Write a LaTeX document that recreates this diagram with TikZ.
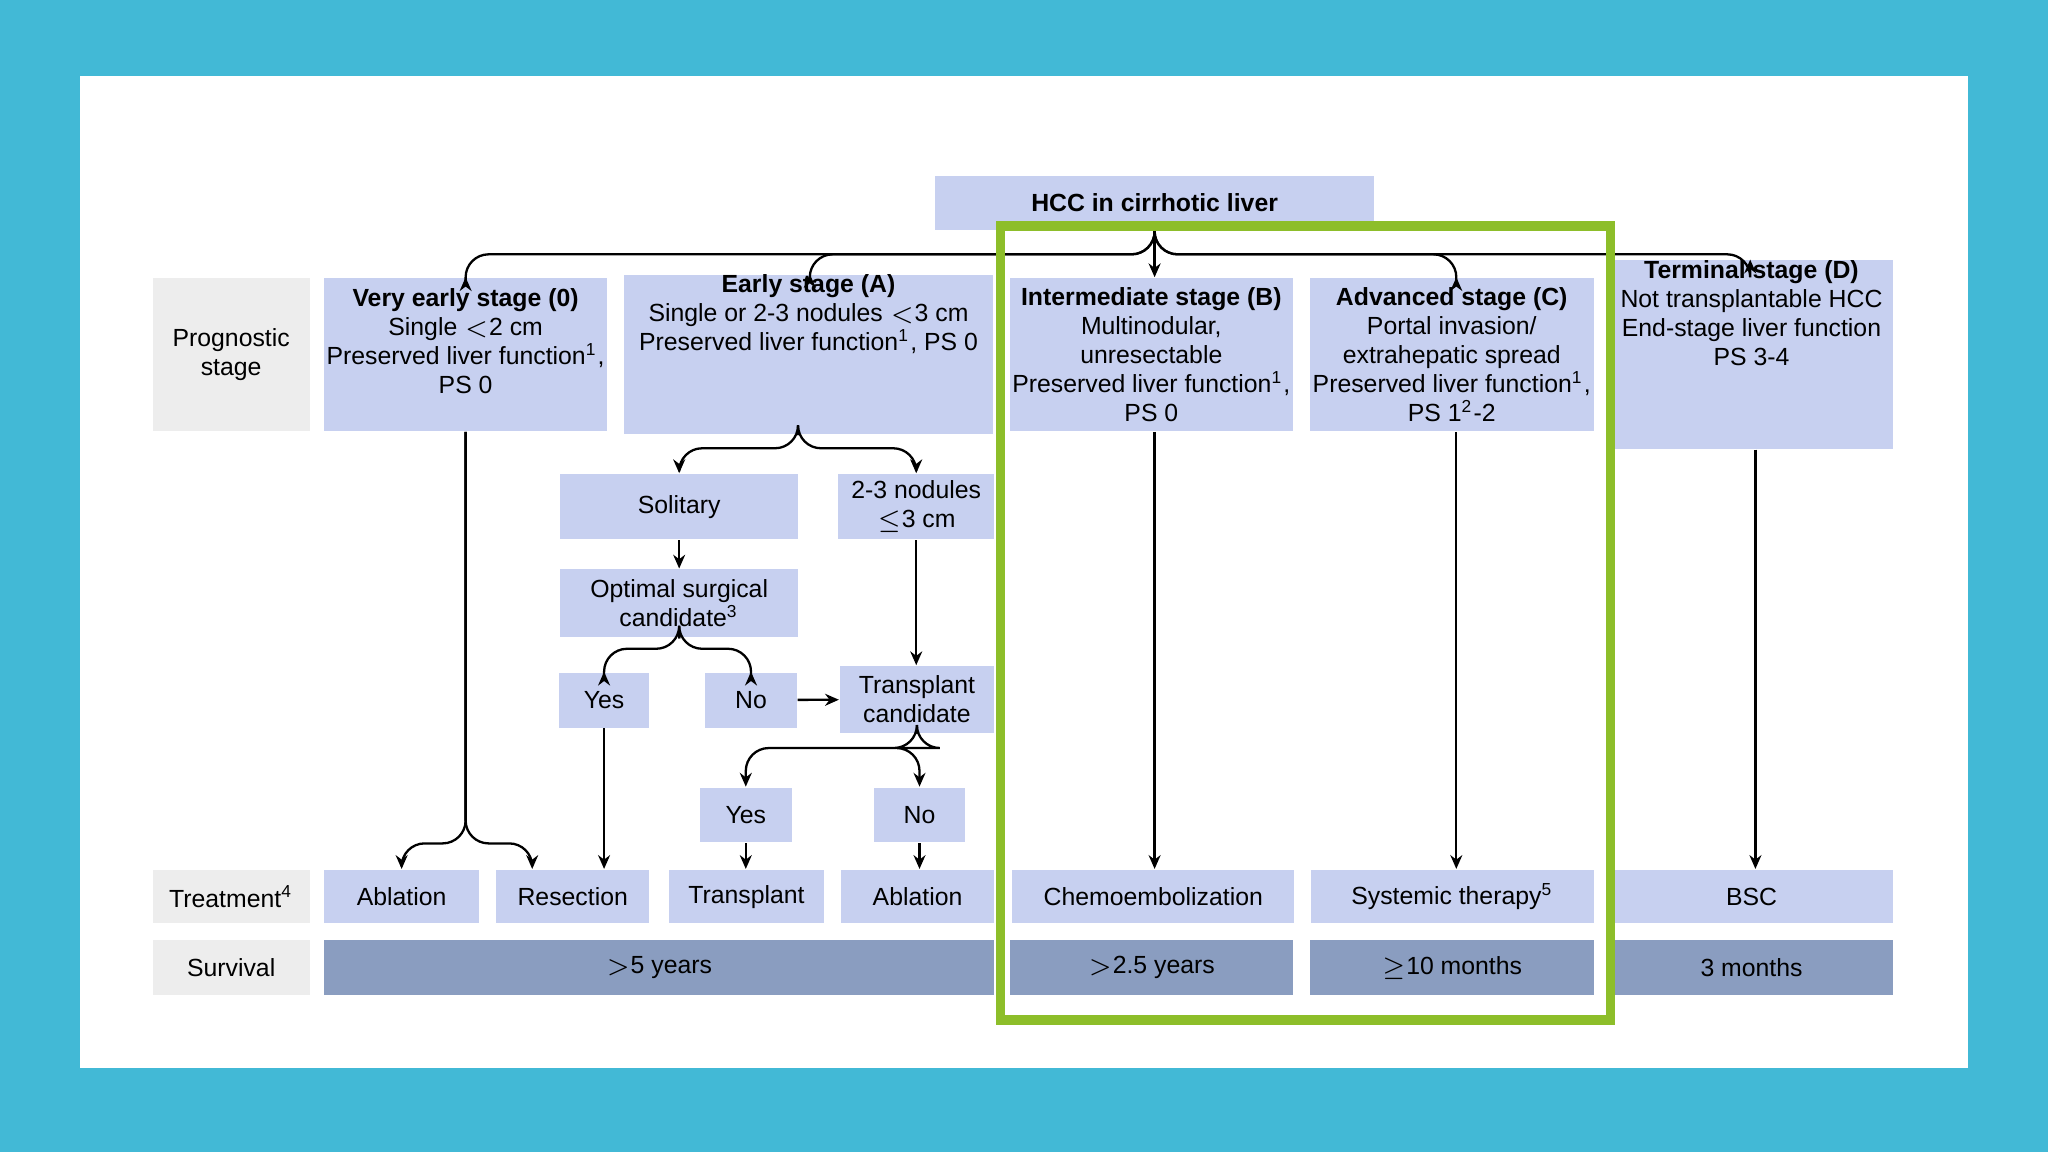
\documentclass[tikz,border=0pt]{standalone}
\usepackage{fontspec}
\setmainfont{Liberation Sans}
\usetikzlibrary{arrows.meta}
\definecolor{bgcyan}{HTML}{42B9D6}
\definecolor{boxc}{HTML}{C7D0F0}
\definecolor{survc}{HTML}{8A9DC0}
\definecolor{greyc}{HTML}{EDEDED}
\definecolor{greenc}{HTML}{8DBE2A}
\begin{document}
\begin{tikzpicture}[x=0.01cm,y=-0.01cm,
  box/.style={fill=boxc,inner sep=0pt,align=center,font=\fontsize{5.4}{6.3}\selectfont},
  grey/.style={box,fill=greyc},
  surv/.style={box,fill=survc},
  arr/.style={-{Stealth[length=3pt,width=2.6pt]},line width=0.5pt,rounded corners=5pt}]
\fill[bgcyan] (0,0) rectangle (1568,882);
\fill[white] (61,58) rectangle (1507,818);
% stage row
\node[box,minimum width=3.36cm,minimum height=0.41cm] (hcc) at (884,155.5) {\textbf{HCC in cirrhotic liver}};
\node[grey,minimum width=1.2cm,minimum height=1.17cm] (prog) at (177,271.5) {Prognostic\\stage};
\node[box,minimum width=2.17cm,minimum height=1.17cm] (ve) at (356.5,271.5) {\textbf{Very early stage (0)}\\Single $<$2 cm\\Preserved liver function\textsuperscript{1},\\PS 0\\[-0.1em]};
\node[box,minimum width=2.82cm,minimum height=1.17cm] (ea) at (619,271.5) {\textbf{Early stage (A)}\\Single or 2-3 nodules $<$3 cm\\Preserved liver function\textsuperscript{1}, PS 0\\[2.2em]};
\node[box,minimum width=2.17cm,minimum height=1.17cm] (im) at (881.5,271.5) {\textbf{Intermediate stage (B)}\\Multinodular,\\unresectable\\Preserved liver function\textsuperscript{1},\\PS 0};
\node[box,minimum width=2.17cm,minimum height=1.17cm] (ad) at (1111.5,271.5) {\textbf{Advanced stage (C)}\\Portal invasion/\\extrahepatic spread\\Preserved liver function\textsuperscript{1},\\PS 1\textsuperscript{2}-2};
\node[box,minimum width=2.16cm,minimum height=1.17cm] (te) at (1341,271.5) {\textbf{Terminal stage (D)}\\Not transplantable HCC\\End-stage liver function\\PS 3-4\\[2.2em]};
% decision boxes
\node[box,minimum width=1.82cm,minimum height=0.5cm] (sol) at (520,388) {Solitary};
\node[box,minimum width=1.19cm,minimum height=0.5cm] (nod) at (701.5,388) {2-3 nodules\\$\leq$3 cm};
\node[box,minimum width=1.82cm,minimum height=0.52cm] (opt) at (520,462) {Optimal surgical\\candidate\textsuperscript{3}};
\node[box,minimum width=0.69cm,minimum height=0.42cm] (yes1) at (462.5,536) {Yes};
\node[box,minimum width=0.70cm,minimum height=0.42cm] (no1) at (575,536) {No};
\node[box,minimum width=1.18cm,minimum height=0.51cm] (tc) at (702,535.5) {Transplant\\candidate};
\node[box,minimum width=0.70cm,minimum height=0.42cm] (yes2) at (571,624) {Yes};
\node[box,minimum width=0.70cm,minimum height=0.42cm] (no2) at (704,624) {No};
% treatment row
\node[grey,minimum width=1.2cm,minimum height=0.41cm] (treat) at (177,686.5) {Treatment\textsuperscript{4}};
\node[box,minimum width=1.19cm,minimum height=0.41cm] (abl1) at (307.5,686.5) {Ablation};
\node[box,minimum width=1.17cm,minimum height=0.41cm] (res) at (438.5,686.5) {Resection};
\node[box,minimum width=1.19cm,minimum height=0.41cm] (tra) at (571.5,686.5) {Transplant};
\node[box,minimum width=1.17cm,minimum height=0.41cm] (abl2) at (702.5,686.5) {Ablation};
\node[box,minimum width=2.16cm,minimum height=0.41cm] (che) at (883,686.5) {Chemoembolization};
\node[box,minimum width=2.16cm,minimum height=0.41cm] (sys) at (1112,686.5) {Systemic therapy\textsuperscript{5}};
\node[box,minimum width=2.16cm,minimum height=0.41cm] (bsc) at (1341,686.5) {BSC};
% survival row
\node[grey,minimum width=1.2cm,minimum height=0.42cm] (surv) at (177,741) {Survival};
\node[surv,minimum width=5.13cm,minimum height=0.42cm] (s1) at (504.5,741) {$>$5 years};
\node[surv,minimum width=2.17cm,minimum height=0.42cm] (s2) at (881.5,741) {$>$2.5 years};
\node[surv,minimum width=2.17cm,minimum height=0.42cm] (s3) at (1111.5,741) {$\geq$10 months};
\node[surv,minimum width=2.16cm,minimum height=0.42cm] (s4) at (1341,741) {3 months};
% connectors
\draw[arr] (hcc.south) -- ++(0,18) -| (ve.north);
\draw[arr] (hcc.south) -- ++(0,18) -| ([xshift=0.01cm]ea.north);
\draw[arr] (hcc.south) -- (im.north -| hcc.south);
\draw[arr] (hcc.south) -- ++(0,18) -| ([xshift=0.035cm]ad.north);
\draw[arr] (hcc.south) -- ++(0,18) -| ([xshift=-0.01cm]te.north);
\draw[arr] (ve.south) -- ++(0,315) -| (abl1.north);
\draw[arr] (ve.south) -- ++(0,315) -| ([xshift=-0.31cm]res.north);
\draw[arr] ([xshift=-0.08cm]ea.south) -- ++(0,10) -| (sol.north);
\draw[arr] ([xshift=-0.08cm]ea.south) -- ++(0,10) -| (nod.north);
\draw[arr] (sol) -- (opt);
\draw[arr] (opt.south) -- ++(0,8) -| (yes1.north);
\draw[arr] (opt.south) -- ++(0,8) -| (no1.north);
\draw[arr] (yes1) -- (res.north -| yes1);
\draw[arr] (no1) -- (tc);
\draw[arr] (nod.south) -- (tc.north -| nod.south);
\draw[arr] (tc.south) -- ++(0,11) -| (yes2.north);
\draw[arr] (tc.south) -- ++(0,11) -| (no2.north);
\draw[arr] (yes2) -- (tra.north -| yes2);
\draw[arr] (no2) -- (abl2.north -| no2);
\draw[arr] ([xshift=0.025cm]im.south) -- ([xshift=0.025cm]im.south |- che.north);
\draw[arr] ([xshift=0.035cm]ad.south) -- ([xshift=0.035cm]ad.south |- sys.north);
\draw[arr] ([xshift=0.03cm]te.south) -- ([xshift=0.03cm]te.south |- bsc.north);
% highlight frame
\draw[greenc,line width=2pt] (766,173) rectangle (1233,781);
\end{tikzpicture}
\end{document}
